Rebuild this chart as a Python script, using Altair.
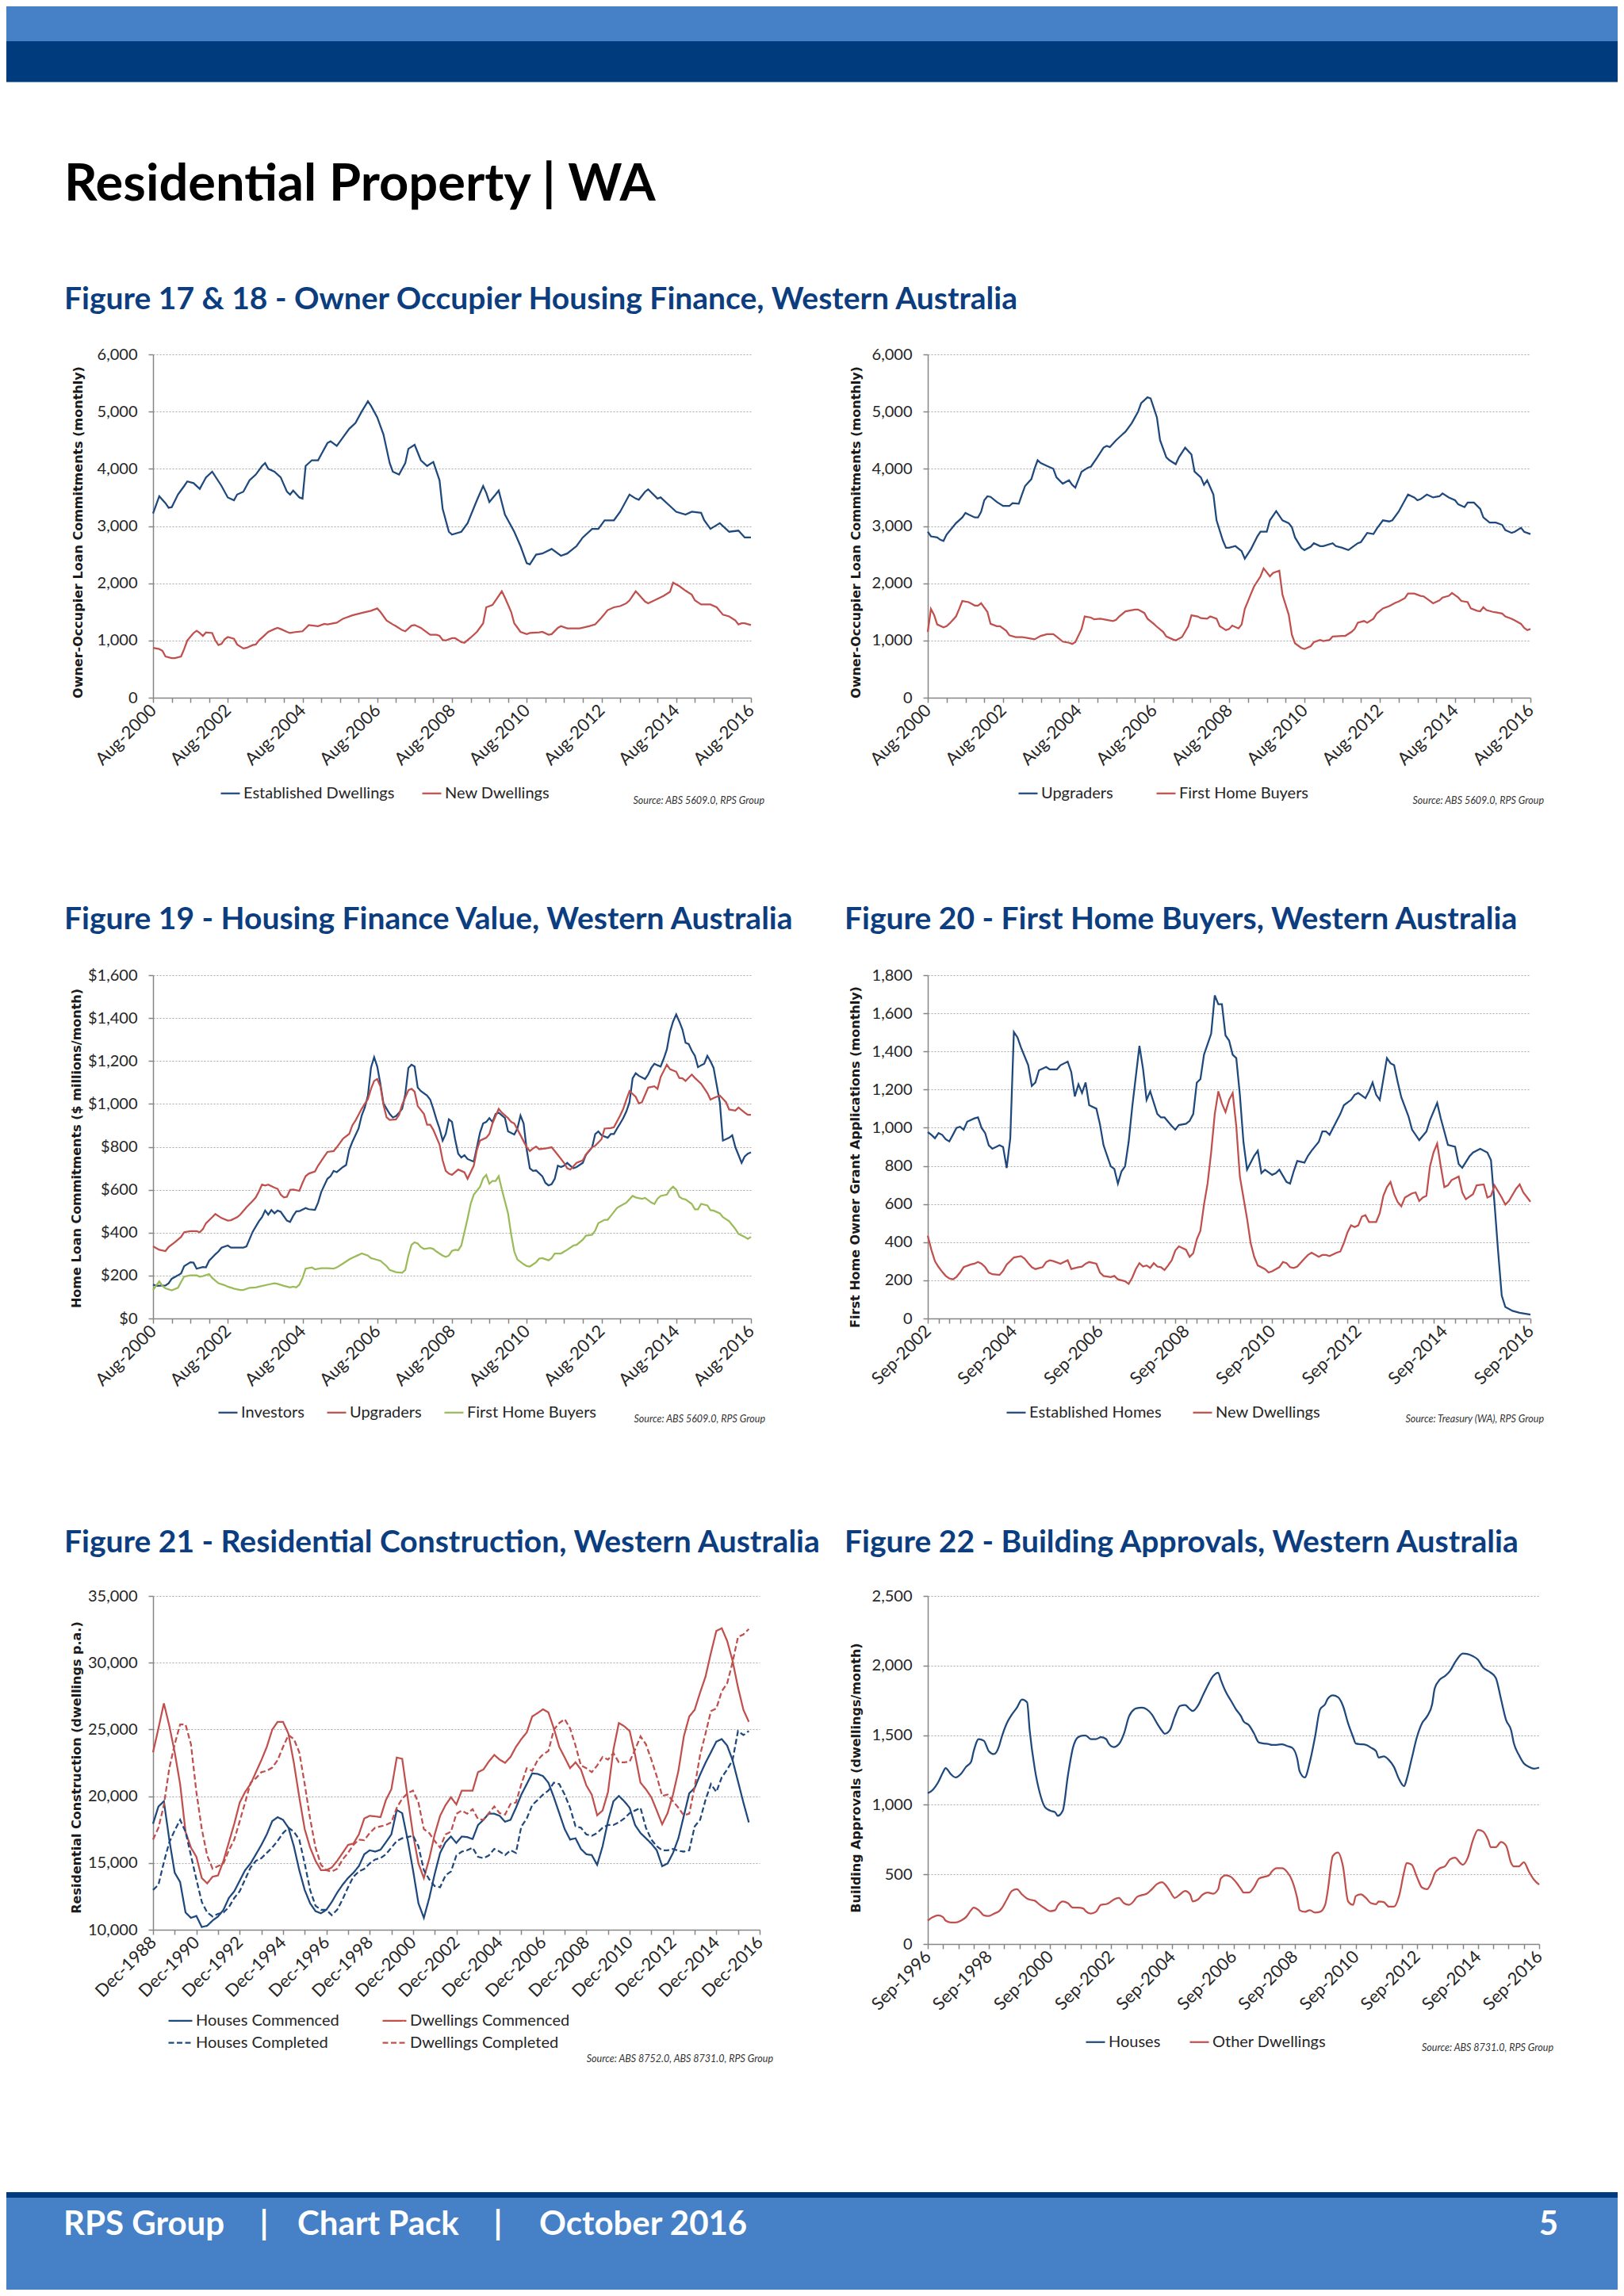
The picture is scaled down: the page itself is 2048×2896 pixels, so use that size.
import json
import altair as alt
import pandas as pd

# ---------------- data (month / quarter offset, value) ----------------
# Figure 17: Aug-2000 .. Aug-2016 (month offsets)
fig17_established = [(0,3220),(2,3520),(4,3400),(5,3320),(6,3330),(8,3550),(10,3700),(11,3780),(13,3750),(15,3650),(17,3850),(19,3950),(22,3700),(24,3500),(26,3450),(27,3550),(29,3600),(31,3800),(33,3900),(35,4050),(36,4100),(37,4000),(39,3950),(41,3850),(43,3600),(44,3550),(45,3620),(47,3500),(48,3480),(49,4050),(51,4150),(53,4150),(54,4250),(56,4450),(57,4480),(59,4400),(61,4550),(63,4700),(65,4800),(67,5000),(69,5180),(70,5100),(72,4900),(74,4600),(76,4100),(77,3950),(79,3900),(81,4100),(82,4350),(84,4420),(86,4150),(88,4050),(90,4120),(92,3800),(93,3300),(95,2900),(96,2850),(99,2900),(101,3050),(104,3450),(106,3700),(107,3580),(108,3420),(110,3550),(111,3620),(113,3200),(116,2900),(118,2650),(120,2350),(121,2330),(123,2500),(125,2520),(128,2600),(131,2480),(133,2520),(136,2650),(138,2800),(141,2950),(143,2950),(145,3100),(148,3100),(150,3250),(153,3550),(155,3480),(156,3460),(158,3600),(159,3640),(162,3480),(163,3500),(166,3350),(168,3250),(171,3200),(173,3250),(176,3230),(177,3100),(179,2950),(182,3050),(185,2900),(188,2920),(190,2800),(192,2800)]
fig17_new = [(0,870),(2,850),(3,820),(4,720),(6,690),(7,690),(9,720),(10,850),(11,1000),(13,1130),(14,1170),(15,1130),(16,1080),(17,1140),(19,1130),(20,1000),(21,920),(22,940),(23,1020),(24,1060),(26,1030),(27,930),(29,860),(30,870),(32,920),(33,930),(34,1000),(36,1100),(37,1150),(39,1200),(40,1220),(41,1200),(43,1150),(44,1130),(46,1150),(48,1160),(50,1270),(53,1250),(55,1290),(56,1280),(59,1310),(61,1380),(62,1400),(64,1440),(67,1480),(70,1520),(72,1560),(73,1500),(75,1350),(77,1280),(78,1250),(80,1180),(81,1160),(83,1260),(84,1270),(86,1220),(87,1180),(89,1100),(91,1100),(92,1080),(93,1010),(94,1000),(96,1040),(97,1040),(99,970),(100,960),(102,1050),(104,1150),(106,1300),(107,1580),(109,1620),(110,1700),(112,1860),(113,1750),(115,1500),(116,1300),(118,1150),(120,1110),(121,1130),(124,1140),(125,1150),(127,1100),(128,1110),(130,1220),(131,1250),(133,1210),(137,1210),(140,1250),(142,1280),(144,1400),(146,1530),(148,1580),(150,1600),(152,1650),(153,1700),(155,1860),(156,1800),(158,1680),(159,1650),(161,1700),(164,1780),(166,1850),(167,2010),(169,1950),(171,1870),(173,1800),(174,1700),(176,1630),(179,1630),(181,1580),(183,1450),(185,1420),(187,1350),(188,1280),(189,1300),(190,1300),(192,1270)]

# Figure 18: Aug-2000 .. Aug-2016
fig18_upgraders = [(0,2900),(1,2820),(3,2800),(4,2760),(5,2740),(6,2850),(9,3050),(11,3150),(12,3230),(13,3200),(15,3150),(16,3150),(17,3250),(18,3450),(19,3520),(20,3510),(22,3420),(24,3350),(26,3350),(27,3400),(29,3390),(30,3550),(31,3700),(33,3820),(34,4000),(35,4150),(36,4100),(38,4050),(40,4000),(41,3850),(43,3740),(45,3800),(46,3720),(47,3670),(49,3950),(51,4020),(52,4040),(54,4200),(56,4370),(57,4400),(58,4380),(60,4500),(62,4600),(63,4650),(65,4800),(67,5000),(68,5150),(70,5250),(71,5230),(73,4900),(74,4500),(76,4200),(77,4150),(79,4080),(80,4200),(82,4370),(84,4250),(85,3950),(87,3850),(88,3720),(89,3800),(91,3550),(92,3100),(94,2750),(95,2620),(96,2620),(98,2650),(100,2560),(101,2430),(103,2600),(105,2820),(106,2900),(108,2900),(109,3100),(111,3260),(113,3100),(115,3050),(116,2980),(117,2800),(119,2620),(120,2580),(122,2640),(123,2700),(125,2650),(126,2650),(129,2700),(130,2650),(132,2620),(134,2580),(135,2620),(137,2700),(138,2720),(140,2880),(142,2860),(143,2950),(145,3100),(147,3080),(148,3100),(150,3250),(152,3450),(153,3550),(155,3500),(156,3450),(157,3470),(159,3550),(161,3500),(163,3520),(164,3570),(166,3500),(168,3450),(169,3380),(171,3330),(172,3410),(174,3410),(176,3300),(177,3150),(179,3060),(181,3060),(183,3020),(184,2930),(186,2880),(187,2900),(189,2970),(190,2900),(192,2860)]
fig18_fhb = [(0,1150),(1,1550),(2,1450),(3,1280),(5,1230),(6,1250),(7,1300),(9,1420),(10,1550),(11,1690),(13,1670),(15,1610),(16,1610),(17,1650),(19,1500),(20,1290),(22,1250),(23,1250),(25,1170),(26,1090),(28,1060),(30,1060),(32,1040),(34,1020),(36,1080),(38,1110),(40,1110),(41,1070),(43,980),(45,960),(46,940),(47,970),(49,1200),(50,1420),(52,1400),(53,1370),(55,1380),(57,1360),(59,1340),(60,1360),(61,1420),(63,1510),(64,1520),(66,1540),(67,1540),(69,1480),(70,1380),(72,1290),(73,1240),(75,1150),(76,1070),(78,1020),(79,1000),(81,1060),(83,1250),(84,1440),(86,1420),(87,1390),(89,1380),(90,1420),(92,1380),(93,1250),(95,1180),(96,1200),(97,1260),(99,1210),(100,1280),(101,1550),(103,1820),(104,1950),(106,2120),(107,2260),(109,2120),(110,2180),(112,2220),(113,1800),(115,1450),(116,1100),(117,950),(119,870),(120,850),(122,900),(123,970),(125,1010),(126,990),(128,1010),(129,1070),(132,1080),(133,1080),(135,1150),(136,1200),(137,1310),(139,1340),(140,1310),(142,1380),(143,1470),(145,1560),(147,1600),(149,1660),(150,1680),(152,1740),(153,1820),(155,1820),(157,1780),(158,1770),(159,1730),(161,1650),(163,1700),(164,1750),(166,1780),(167,1830),(169,1750),(170,1690),(172,1670),(173,1560),(175,1520),(176,1510),(177,1580),(178,1530),(180,1500),(181,1490),(183,1470),(184,1420),(186,1380),(187,1350),(189,1290),(190,1220),(191,1180),(192,1200)]

# Figure 19: Aug-2000 .. Aug-2016 ($ millions / month)
fig19_investors = [(0,158),(1,152),(4,154),(5,164),(6,185),(8,201),(9,210),(10,244),(12,262),(13,260),(14,232),(16,240),(17,238),(18,269),(20,299),(21,312),(22,330),(24,340),(25,330),(27,330),(29,330),(30,336),(32,404),(34,453),(35,472),(36,503),(37,484),(38,505),(39,490),(40,503),(41,497),(43,456),(44,450),(45,478),(46,499),(47,500),(49,515),(50,509),(52,506),(53,540),(54,589),(56,651),(57,663),(58,688),(59,682),(61,706),(62,715),(63,786),(64,823),(66,885),(67,946),(68,983),(69,1039),(70,1170),(71,1218),(72,1174),(73,1094),(74,1002),(76,953),(77,937),(78,943),(79,959),(80,977),(81,1045),(82,1168),(83,1183),(84,1174),(85,1076),(86,1060),(88,1039),(89,1020),(90,977),(91,928),(92,885),(93,829),(94,860),(95,928),(96,916),(97,835),(98,768),(99,750),(100,761),(101,743),(103,731),(104,798),(105,866),(106,909),(107,916),(108,934),(109,916),(110,953),(111,959),(113,934),(114,872),(116,857),(117,885),(118,946),(119,909),(120,786),(121,700),(122,688),(123,690),(125,663),(126,632),(127,620),(128,626),(129,651),(130,712),(131,706),(132,712),(133,725),(134,712),(135,700),(136,706),(138,725),(139,762),(141,798),(142,860),(143,872),(144,854),(146,842),(147,860),(148,860),(149,885),(150,909),(151,934),(152,965),(153,1008),(154,1119),(155,1143),(156,1131),(158,1116),(159,1137),(160,1168),(161,1187),(162,1180),(163,1174),(164,1211),(165,1254),(166,1335),(167,1384),(168,1417),(169,1384),(170,1347),(171,1285),(172,1279),(173,1248),(174,1224),(175,1171),(176,1180),(177,1187),(178,1224),(179,1199),(180,1168),(182,1008),(183,829),(185,842),(186,854),(187,798),(188,762),(189,725),(190,755),(191,768),(192,774)]
fig19_upgraders = [(0,336),(2,320),(4,314),(5,333),(7,355),(9,380),(10,402),(12,407),(14,407),(15,402),(16,416),(17,444),(19,472),(20,487),(22,468),(24,456),(25,458),(27,472),(28,484),(30,518),(32,548),(33,564),(34,592),(35,624),(36,620),(37,624),(39,610),(40,604),(41,577),(42,564),(43,567),(44,599),(45,601),(47,595),(48,632),(49,663),(50,675),(52,685),(53,712),(55,755),(56,776),(58,780),(59,798),(61,838),(63,860),(64,900),(65,922),(67,977),(69,1023),(70,1070),(71,1107),(72,1116),(73,1082),(74,996),(75,937),(76,925),(78,928),(79,949),(80,996),(82,1064),(83,1070),(84,1057),(85,990),(87,953),(88,903),(89,903),(90,879),(92,811),(93,737),(94,688),(95,675),(96,669),(98,694),(100,681),(101,651),(103,712),(104,786),(105,829),(107,842),(108,860),(109,909),(111,977),(112,959),(114,934),(115,916),(116,909),(118,854),(120,798),(121,780),(122,792),(123,801),(124,789),(126,792),(128,798),(130,762),(132,725),(133,700),(134,694),(136,725),(138,737),(139,764),(141,798),(142,805),(144,835),(145,885),(147,887),(148,891),(150,946),(151,977),(152,1020),(153,1060),(155,1033),(156,1002),(157,1008),(159,1076),(161,1082),(162,1070),(163,1125),(165,1183),(166,1162),(168,1150),(169,1121),(170,1119),(171,1107),(173,1137),(174,1121),(176,1094),(178,1051),(179,1020),(180,1027),(182,1039),(184,1008),(185,974),(187,969),(188,983),(190,959),(191,949),(192,949)]
fig19_fhb = [(0,133),(2,173),(3,152),(4,140),(6,131),(8,143),(9,170),(10,195),(12,201),(14,201),(15,195),(16,197),(18,207),(19,189),(21,164),(23,155),(24,148),(26,139),(28,133),(29,133),(31,143),(33,145),(34,148),(37,158),(39,164),(40,161),(42,152),(44,145),(45,148),(46,145),(47,158),(48,189),(49,232),(51,238),(52,229),(54,234),(56,234),(58,232),(59,238),(61,256),(63,275),(64,283),(66,296),(67,303),(69,293),(70,281),(71,277),(73,269),(75,244),(76,226),(78,216),(80,213),(81,226),(82,293),(83,343),(84,355),(85,349),(86,333),(87,324),(89,328),(90,324),(91,312),(93,293),(94,287),(95,293),(96,315),(97,320),(98,318),(99,340),(101,466),(102,534),(103,577),(105,614),(106,653),(107,669),(108,628),(109,641),(110,641),(111,663),(112,601),(114,490),(115,392),(116,312),(117,275),(119,253),(120,244),(121,242),(123,262),(124,279),(125,281),(127,271),(128,281),(129,303),(131,303),(133,320),(135,340),(136,343),(138,367),(139,386),(141,390),(142,410),(143,444),(145,460),(146,460),(147,478),(149,515),(150,524),(152,540),(154,571),(155,564),(157,558),(158,562),(160,540),(161,534),(162,558),(163,571),(165,577),(166,601),(167,614),(168,601),(169,567),(170,558),(171,555),(173,534),(174,509),(175,509),(176,534),(178,527),(179,505),(180,503),(182,490),(183,472),(185,453),(186,435),(187,417),(188,394),(190,380),(191,371),(192,380)]

# Figure 20: Sep-2002 .. Sep-2016
fig20_established = [(0,977),(1,963),(2,945),(3,972),(4,963),(5,940),(6,928),(7,963),(8,999),(9,1005),(10,990),(11,1032),(13,1049),(14,1054),(15,999),(16,972),(17,908),(18,890),(20,908),(21,899),(22,789),(23,945),(24,1502),(25,1474),(26,1420),(28,1328),(29,1219),(30,1237),(31,1301),(33,1319),(34,1306),(36,1306),(37,1328),(39,1347),(40,1292),(41,1164),(42,1228),(43,1182),(44,1237),(45,1118),(47,1100),(48,1018),(49,908),(51,798),(52,784),(53,707),(54,771),(55,798),(56,926),(57,1109),(59,1429),(60,1310),(61,1146),(62,1191),(64,1072),(65,1054),(66,1054),(68,1009),(69,990),(70,1014),(72,1021),(73,1036),(74,1072),(75,1237),(76,1255),(77,1383),(79,1493),(80,1694),(81,1648),(82,1648),(83,1484),(84,1457),(85,1383),(86,1365),(87,1173),(88,926),(89,780),(91,853),(92,880),(93,762),(94,780),(96,753),(97,762),(98,780),(100,716),(101,707),(102,771),(103,826),(105,817),(106,853),(107,880),(109,926),(110,981),(111,981),(112,963),(114,1036),(115,1072),(116,1118),(118,1146),(119,1173),(120,1182),(122,1155),(123,1191),(124,1237),(125,1173),(126,1146),(127,1255),(128,1365),(129,1338),(130,1328),(131,1240),(132,1160),(134,1060),(135,990),(137,935),(139,980),(140,1040),(142,1130),(143,1050),(144,980),(145,910),(147,900),(148,810),(149,790),(151,850),(152,870),(154,890),(156,870),(157,830),(158,600),(159,350),(160,120),(161,60),(163,40),(165,30),(168,20)]
fig20_new = [(0,433),(1,360),(2,300),(3,270),(4,245),(5,223),(6,210),(7,205),(8,218),(9,241),(10,269),(12,283),(13,287),(14,296),(15,287),(16,269),(17,241),(18,232),(20,228),(21,250),(22,283),(23,301),(24,320),(26,327),(27,314),(28,290),(29,269),(30,259),(32,269),(33,296),(34,305),(35,301),(37,287),(38,296),(39,305),(40,259),(42,269),(43,272),(44,287),(45,296),(47,287),(48,241),(49,223),(51,217),(52,223),(53,205),(55,195),(56,181),(57,214),(58,259),(59,290),(60,272),(61,278),(62,265),(63,290),(64,272),(65,269),(66,254),(67,278),(68,305),(69,356),(70,378),(72,360),(73,323),(74,342),(75,415),(76,460),(77,597),(78,707),(79,871),(80,1072),(81,1191),(82,1127),(83,1082),(84,1146),(85,1182),(86,1009),(87,744),(89,524),(90,396),(91,323),(92,278),(94,259),(95,241),(96,247),(98,269),(99,296),(100,290),(101,269),(102,265),(103,272),(105,314),(106,333),(107,345),(109,323),(110,333),(111,333),(112,327),(114,345),(115,351),(116,396),(117,451),(118,488),(119,479),(120,488),(121,534),(122,542),(123,506),(125,506),(126,552),(127,643),(128,689),(129,716),(130,652),(131,610),(132,588),(133,634),(135,656),(136,661),(137,616),(138,634),(139,643),(140,798),(141,871),(142,917),(143,798),(144,689),(145,698),(146,725),(148,744),(149,661),(150,625),(152,652),(153,698),(155,703),(156,634),(157,643),(158,698),(160,634),(161,597),(162,616),(164,680),(165,703),(166,661),(168,612)]

# Figure 21: quarterly, Dec-1988 .. Jun-2016 (dwellings p.a.)
fig21_houses_commenced = [17940,19230,19620,16750,14270,13570,11290,10890,11030,10200,10300,10690,10990,11490,12380,12880,13670,14460,14960,15650,16350,17140,18130,18430,18230,17640,16250,14460,12980,11980,11390,11230,11490,12080,12780,13370,13870,14270,14760,15650,15950,15850,15990,16550,17140,18970,18730,16750,14460,11980,10890,12380,14170,15750,16550,16980,16500,16980,16940,16790,17840,18230,18690,18690,18530,18090,18230,19130,20120,20910,21710,21670,21510,21010,19920,18730,17540,16750,16850,16050,15650,15590,14860,16250,18130,19620,20020,19620,19130,17840,17240,16850,16450,15950,14760,14960,15750,16850,18530,20220,20620,21610,22500,23290,24090,24280,23790,22700,21110,19520,18040]
fig21_dwellings_commenced = [23290,25080,26960,25280,23290,20910,17340,16150,15460,13870,13470,13970,14070,15160,16550,17940,19520,20320,20910,21800,22700,23690,24980,25570,25570,24680,22500,19920,17540,16150,15160,14460,14460,14660,15160,15750,16350,16450,17140,18330,18530,18490,18430,19720,20520,22900,22800,19920,17140,14960,13870,15320,17140,18530,19330,19920,19380,20420,20420,20420,21800,22000,22600,23090,22740,22500,22940,23690,24280,24780,25970,26230,26510,26270,25080,23690,22900,22100,22540,22000,20810,20120,18570,18930,20320,23490,25480,25240,24880,23090,21010,20520,19920,18930,17900,18730,20120,21900,24480,25970,26470,27760,28950,30730,32380,32580,31630,30140,28150,26470,25570]
fig21_houses_completed = [12980,13370,15060,16550,17440,18230,17340,15560,13770,12080,11290,10990,11190,11290,11690,12380,12880,13770,14660,15160,15360,15750,16150,16650,17240,17640,17340,16750,14960,12980,11790,11490,11490,11090,11490,12280,13180,13970,14360,14560,14960,15260,15360,15650,16150,16650,16850,16940,17040,16250,14460,13770,13270,13180,14070,14360,15560,15850,15950,16150,15460,15360,15560,16050,15850,15590,15950,15750,17740,18330,19330,19720,20120,20420,21010,20910,20120,19130,17740,17640,17140,17040,17240,17640,17840,17840,18040,18330,18730,18930,19130,17640,16750,16250,15950,15950,16050,15910,15850,15950,17740,18230,19720,20910,20320,21410,22000,22700,24880,24580,24880]
fig21_dwellings_completed = [16750,17640,19330,22100,23890,25380,25380,23890,20320,17540,15560,14560,14760,14960,15950,16750,18130,19520,21010,21350,21800,21900,22140,22700,23690,24580,24280,23290,20910,18330,16150,14860,14460,14360,14560,15260,15750,16350,16750,16710,17240,17640,17740,17840,18040,19130,19820,20220,20420,19520,17540,17240,16650,16150,17140,17340,18680,18930,18690,19030,18290,18230,18730,19230,18730,18630,19420,19520,20910,22100,21900,22700,23130,23390,24980,25480,25770,25080,23790,22300,22100,21800,22300,22940,22740,23230,22540,22540,22600,23490,24480,23890,22740,21500,20020,20120,19620,19130,18570,18690,20710,23090,24680,26370,26570,27860,28450,30040,31920,32120,32520]

# Figure 22: Sep-1996 .. Sep-2016 (dwellings / month)
fig22_houses = [(0,1083),(2,1108),(4,1159),(6,1234),(7,1264),(9,1221),(11,1196),(13,1221),(15,1272),(17,1309),(18,1384),(20,1472),(22,1460),(24,1384),(26,1364),(28,1422),(29,1485),(31,1585),(33,1648),(35,1698),(37,1756),(39,1736),(40,1535),(42,1259),(44,1083),(46,983),(48,958),(50,946),(51,920),(53,958),(55,1209),(57,1410),(59,1485),(61,1497),(62,1497),(64,1472),(66,1472),(68,1485),(70,1472),(71,1440),(73,1415),(75,1435),(77,1510),(79,1635),(81,1685),(82,1693),(84,1698),(86,1685),(88,1648),(90,1585),(92,1530),(93,1510),(95,1535),(97,1635),(99,1710),(101,1716),(103,1685),(104,1673),(106,1710),(108,1786),(110,1861),(112,1924),(114,1949),(115,1899),(117,1811),(119,1748),(121,1685),(123,1635),(124,1598),(126,1573),(128,1515),(130,1447),(132,1440),(134,1435),(135,1430),(137,1430),(139,1435),(141,1422),(143,1410),(145,1334),(146,1239),(148,1196),(150,1309),(152,1485),(154,1685),(156,1723),(157,1761),(159,1786),(161,1773),(163,1710),(165,1585),(167,1485),(168,1440),(170,1435),(172,1430),(174,1410),(176,1384),(177,1339),(179,1347),(181,1322),(183,1272),(185,1184),(187,1134),(188,1184),(190,1334),(192,1485),(194,1585),(196,1635),(198,1723),(199,1836),(201,1899),(203,1924),(205,1961),(207,2024),(209,2074),(210,2087),(212,2082),(214,2067),(216,2042),(218,1986),(220,1961),(221,1949),(223,1911),(225,1761),(227,1610),(229,1535),(230,1447),(232,1359),(234,1297),(236,1272),(238,1259),(240,1267)]
fig22_other = [(0,168),(2,193),(4,206),(6,193),(7,168),(9,155),(11,155),(13,168),(15,193),(17,243),(18,261),(20,243),(22,206),(24,201),(26,218),(28,236),(29,256),(31,319),(33,381),(35,394),(37,356),(39,326),(40,319),(42,311),(44,281),(46,256),(48,236),(50,243),(51,276),(53,306),(55,293),(57,261),(59,261),(61,256),(62,236),(64,218),(66,231),(68,281),(70,286),(71,293),(73,319),(75,331),(77,293),(79,281),(81,311),(82,336),(84,351),(86,361),(88,394),(90,431),(92,444),(93,431),(95,381),(97,331),(99,356),(101,381),(103,356),(104,306),(106,319),(108,356),(110,369),(112,361),(114,394),(115,469),(117,494),(119,482),(121,444),(123,394),(124,369),(126,369),(128,406),(130,469),(132,482),(134,494),(135,519),(137,544),(139,544),(141,519),(143,456),(145,331),(146,243),(148,231),(150,243),(152,226),(154,231),(156,281),(157,381),(159,632),(161,657),(163,557),(165,306),(167,281),(168,344),(170,356),(172,331),(174,293),(176,286),(177,306),(179,301),(181,268),(183,268),(185,344),(187,519),(188,582),(190,569),(192,482),(194,406),(196,394),(198,456),(199,507),(201,544),(203,557),(205,607),(207,620),(209,582),(210,569),(212,620),(214,745),(216,820),(218,808),(220,745),(221,695),(223,695),(225,732),(227,707),(229,582),(230,557),(232,557),(234,587),(236,519),(238,461),(240,426)]

# tick labels
aug_labels = ["Aug-2000", "Aug-2002", "Aug-2004", "Aug-2006", "Aug-2008", "Aug-2010", "Aug-2012", "Aug-2014", "Aug-2016"]
sep02_labels = ["Sep-2002", "Sep-2004", "Sep-2006", "Sep-2008", "Sep-2010", "Sep-2012", "Sep-2014", "Sep-2016"]
dec_labels = ["Dec-1988", "Dec-1990", "Dec-1992", "Dec-1994", "Dec-1996", "Dec-1998", "Dec-2000", "Dec-2002", "Dec-2004", "Dec-2006", "Dec-2008", "Dec-2010", "Dec-2012", "Dec-2014", "Dec-2016"]
sep96_labels = ["Sep-1996", "Sep-1998", "Sep-2000", "Sep-2002", "Sep-2004", "Sep-2006", "Sep-2008", "Sep-2010", "Sep-2012", "Sep-2014", "Sep-2016"]

# texts
page_title = "Residential Property | WA"
fig_titles = ["Figure 17 & 18 - Owner Occupier Housing Finance, Western Australia",
              "Figure 19 - Housing Finance Value, Western Australia",
              "Figure 20 - First Home Buyers, Western Australia",
              "Figure 21 - Residential Construction, Western Australia",
              "Figure 22 - Building Approvals, Western Australia"]
footer_parts = ["RPS Group", "|", "Chart Pack", "|", "October 2016"]
page_number = "5"

# ---------------- style ----------------
BLUE = "#1F497D"
RED = "#C0504D"
GREEN = "#9BBB59"
TITLE_BLUE = "#0B3D7F"
BAND_LIGHT = "#4680C6"
BAND_DARK = "#003B7D"
AXIS_GREY = "#868686"
LINE_W = 2.25
DASH = [7, 3.5]
FIG_TITLE_SIZE = 39


def label_expr(labels, step):
    return f"datum.value % {step} === 0 ? {json.dumps(labels)}[datum.value / {step}] : ''"


def frame(series):
    rows = []
    for name, pts in series:
        for m, v in pts:
            rows.append({"series": name, "m": m, "v": v})
    return pd.DataFrame(rows)


def text_layer(text, x, y, size, color, font="Lato", weight="normal", style="normal",
               align="left", baseline="alphabetic"):
    return alt.Chart(pd.DataFrame({"t": [text]})).mark_text(
        align=align, baseline=baseline, font=font, fontSize=size,
        fontWeight=weight, fontStyle=style, color=color
    ).encode(x=alt.value(x), y=alt.value(y), text="t:N")


def band_layer(x1, x2, y1, y2, color):
    return alt.Chart(pd.DataFrame({"a": [0]})).mark_rect(color=color).encode(
        x=alt.value(x1), x2=alt.value(x2), y=alt.value(y1), y2=alt.value(y2))


def panel(series, colors, width, height, ydom, ystep, yfmt, ytitle, tx, ty,
          n, tick, lstep, labels, lx, ly, lpad, source, sx, sy,
          dashes=None, columns=None, sym=24, rowpad=2, interp="linear",
          before=(), after=()):
    names = [s[0] for s in series]
    df = frame(series)
    xaxis = alt.Axis(values=list(range(0, n + 1, tick)), labelExpr=label_expr(labels, lstep),
                     labelAngle=-45, labelAlign="right", labelBaseline="middle",
                     labelPadding=6, labelOverlap=False, labelFlush=False, labelFontSize=22,
                     grid=False, title=None, tickSize=6)
    yaxis = alt.Axis(values=list(range(ydom[0], ydom[1] + 1, ystep)), format=yfmt,
                     title=ytitle, titleX=tx, titleY=ty, titleAngle=270,
                     titleAlign="center", titleBaseline="middle",
                     grid=True, tickSize=6, labelPadding=14)
    lkw = dict(orient="none", legendX=lx, legendY=ly, direction="horizontal", title=None,
               symbolType="stroke", symbolSize=sym * sym, symbolStrokeWidth=LINE_W,
               labelFont="Lato", labelFontSize=20, labelColor="#262626",
               columnPadding=lpad, rowPadding=rowpad, labelOffset=3, labelLimit=600, padding=0)
    if columns:
        lkw["columns"] = columns
    legend = alt.Legend(**lkw)
    enc = dict(
        x=alt.X("m:Q", scale=alt.Scale(domain=[0, n], nice=False, zero=False), axis=xaxis),
        y=alt.Y("v:Q", scale=alt.Scale(domain=list(ydom), nice=False, zero=False), axis=yaxis),
        color=alt.Color("series:N", scale=alt.Scale(domain=names, range=colors), legend=legend),
    )
    if dashes:
        enc["strokeDash"] = alt.StrokeDash("series:N", scale=alt.Scale(domain=names, range=dashes),
                                           legend=legend)
    lines = alt.Chart(df).mark_line(strokeWidth=LINE_W, interpolate=interp).encode(**enc)
    src = text_layer(source, sx, sy, 12.5, "#333333", style="italic", align="right", baseline="middle")
    return alt.layer(*before, lines, src, *after).properties(width=width, height=height)


# ---------------- panels ----------------
header = [
    band_layer(-185, 1847, -439, -395, BAND_LIGHT),
    band_layer(-185, 1847, -395, -343.5, BAND_DARK),
    text_layer(page_title, -112, -194, 65, "#000000", weight="bold"),
    text_layer(fig_titles[0], -112, -57, FIG_TITLE_SIZE, TITLE_BLUE, weight="bold"),
]

c1 = panel([("Established Dwellings", fig17_established), ("New Dwellings", fig17_new)], [BLUE, RED],
           754, 433, (0, 6000), 1000, ",.0f", "Owner-Occupier Loan Commitments (monthly)", -95, 224,
           192, 6, 24, aug_labels, 84, 540, 30, "Source: ABS 5609.0, RPS Group", 771, 563,
           before=header)

c2 = panel([("Upgraders", fig18_upgraders), ("First Home Buyers", fig18_fhb)], [BLUE, RED],
           760, 433, (0, 6000), 1000, ",.0f", "Owner-Occupier Loan Commitments (monthly)", -91, 224,
           192, 6, 24, aug_labels, 113, 540, 50, "Source: ABS 5609.0, RPS Group", 777, 563)

c3 = panel([("Investors", fig19_investors), ("Upgraders", fig19_upgraders), ("First Home Buyers", fig19_fhb)],
           [BLUE, RED, GREEN],
           754, 433, (0, 1600), 200, "$,.0f", "Home Loan Commitments ($ millions/month)", -97, 218,
           192, 6, 24, aug_labels, 81, 538, 24, "Source: ABS 5609.0, RPS Group", 772, 560,
           before=[text_layer(fig_titles[1], -112, -58, FIG_TITLE_SIZE, TITLE_BLUE, weight="bold")])

c4 = panel([("Established Homes", fig20_established), ("New Dwellings", fig20_new)], [BLUE, RED],
           760, 433, (0, 1800), 200, ",.0f", "First Home Owner Grant Applications (monthly)", -92, 229,
           168, 3, 24, sep02_labels, 98, 538, 35, "Source: Treasury (WA), RPS Group", 777, 560,
           before=[text_layer(fig_titles[2], -105, -58, FIG_TITLE_SIZE, TITLE_BLUE, weight="bold")])

fig21_names = ["Houses Commenced", "Dwellings Commenced", "Houses Completed", "Dwellings Completed"]
fig21_series = [(nm, list(enumerate(vals))) for nm, vals in zip(
    fig21_names, [fig21_houses_commenced, fig21_dwellings_commenced, fig21_houses_completed, fig21_dwellings_completed])]
footer_x = [-113, 140, 182, 435, 487]
footer = [
    band_layer(-185, 1847, 752, 759, BAND_DARK),
    band_layer(-185, 1847, 759, 875, BAND_LIGHT),
] + [
    text_layer(part, fx, 806, 42, "#FFFFFF", weight="bold", align="center" if part == "|" else "left")
    for part, fx in zip(footer_parts, footer_x)
] + [
    text_layer(page_number, 1772, 806, 42, "#FFFFFF", weight="bold", align="right"),
]
c5 = panel(fig21_series, [BLUE, RED, BLUE, RED],
           765, 421, (10000, 35000), 5000, ",.0f", "Residential Construction (dwellings p.a.)", -97, 216,
           112, 4, 8, dec_labels, 18, 519, 50, "Source: ABS 8752.0, ABS 8731.0, RPS Group", 782, 584,
           dashes=[[1, 0], [1, 0], DASH, DASH], columns=2, sym=30, rowpad=1,
           before=[text_layer(fig_titles[3], -112, -55.5, FIG_TITLE_SIZE, TITLE_BLUE, weight="bold")],
           after=footer)

c6 = panel([("Houses", fig22_houses), ("Other Dwellings", fig22_other)], [BLUE, RED],
           771, 439, (0, 2500), 500, ",.0f", "Building Approvals (dwellings/month)", -91, 229,
           240, 6, 24, sep96_labels, 198, 549, 32, "Source: ABS 8731.0, RPS Group", 789, 570,
           interp="monotone",
           before=[text_layer(fig_titles[4], -105, -55.5, FIG_TITLE_SIZE, TITLE_BLUE, weight="bold")])

chart = alt.concat(
    c1, c2, c3, c4, c5, c6,
    columns=2, spacing={"row": 350, "column": 212}, bounds="flush", align="each",
).resolve_scale(
    x="independent", y="independent", color="independent", strokeDash="independent"
).configure_view(
    strokeWidth=0
).configure_axis(
    domainColor=AXIS_GREY, domainWidth=1.5, tickColor=AXIS_GREY, tickWidth=1.5,
    gridColor="#ABABAB", gridDash=[2, 2], gridWidth=1,
    labelFont="Lato", labelFontSize=20, labelColor="#262626",
    titleFont="DejaVu Sans", titleFontSize=16, titleFontWeight="bold", titleColor="#1A1A1A",
).properties(padding=0, background="white")

chart.save("out.html", embed_options={"renderer": "svg", "actions": False})
